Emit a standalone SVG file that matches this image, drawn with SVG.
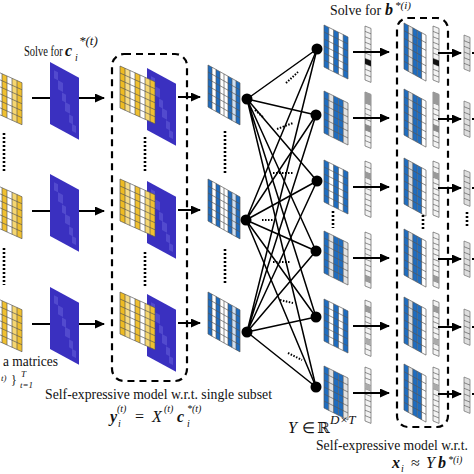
<svg xmlns="http://www.w3.org/2000/svg" width="474" height="474" viewBox="0 0 474 474">
<style>
text{font-family:"Liberation Serif","Times New Roman",serif;fill:#111}
.it{font-style:italic}
.bi{font-style:italic;font-weight:bold}
.grid{fill:none;stroke:#555;stroke-width:0.6}
.edge{stroke:#000;stroke-width:1.5;fill:none}
.dots{stroke:#000;stroke-width:2;stroke-dasharray:1.5 1.5;fill:none}
.vdots{stroke:#000;stroke-width:2.6;stroke-dasharray:2 2;fill:none}
.arrow{stroke:#000;stroke-width:2;fill:none;marker-end:url(#ah)}
.box{fill:none;stroke:#000;stroke-width:2.2;stroke-dasharray:7 5}
.vec{fill:#f3f3f3;stroke:#555;stroke-width:0.6}
</style>
<defs>
<marker id="ah" markerUnits="userSpaceOnUse" markerWidth="10" markerHeight="9" refX="9" refY="4.5" orient="auto">
<path d="M0,0 L10,4.5 L0,9 z" fill="#000"/>
</marker>
<g id="ym">
<rect x="0" y="0" width="5" height="42" fill="#eebb22"/>
<rect x="5" y="0" width="5" height="42" fill="#f6dc86"/>
<rect x="10" y="0" width="5" height="42" fill="#ffffff"/>
<rect x="15" y="0" width="5" height="42" fill="#f0c030"/>
<rect x="20" y="0" width="5" height="42" fill="#ffffff"/>
<rect x="25" y="0" width="5" height="42" fill="#f5d670"/>
<rect x="30" y="0" width="5" height="42" fill="#f0c030"/>
<path class="grid" d="M0 0V42M5 0V42M10 0V42M15 0V42M20 0V42M25 0V42M30 0V42M35 0V42M0 0H35M0 7H35M0 14H35M0 21H35M0 28H35M0 35H35M0 42H35"/>
</g>
<g id="pp">
<rect x="0" y="0" width="29" height="62" fill="#3a30c0"/>
<g fill="#8a88f0" opacity="0.3">
<rect x="4" y="6" width="4" height="8"/><rect x="8" y="14" width="5" height="9"/><rect x="12" y="24" width="4" height="8"/>
<rect x="15" y="32" width="5" height="9"/><rect x="19" y="42" width="4" height="8"/><rect x="22" y="50" width="4" height="7"/>
</g>
</g>
<g id="bm">
<rect x="0" y="0" width="32" height="42" fill="#fff"/>
<rect x="0" y="0" width="4" height="42" fill="#1f6dc0"/>
<rect x="8" y="0" width="4" height="42" fill="#1f6dc0"/>
<rect x="20" y="0" width="4" height="42" fill="#1f6dc0"/>
<rect x="24" y="0" width="4" height="42" fill="#cfe0f3"/>
<rect x="28" y="0" width="4" height="42" fill="#1f6dc0"/>
<path class="grid" d="M0 0V42M4 0V42M8 0V42M12 0V42M16 0V42M20 0V42M24 0V42M28 0V42M32 0V42M0 0H32M0 7H32M0 14H32M0 21H32M0 28H32M0 35H32M0 42H32"/>
</g>
<g id="rmA">
<rect x="0" y="0" width="24" height="42" fill="#fff"/>
<rect x="0" y="0" width="4.8" height="42" fill="#1f6dc0"/>
<rect x="9.6" y="0" width="4.8" height="42" fill="#1f6dc0"/>
<rect x="19.2" y="0" width="4.8" height="42" fill="#1f6dc0"/>
<path class="grid" d="M0 0V42M4.8 0V42M9.6 0V42M14.4 0V42M19.2 0V42M24 0V42M0 0H24M0 7H24M0 14H24M0 21H24M0 28H24M0 35H24M0 42H24"/>
</g>
<g id="rmB">
<rect x="0" y="0" width="24" height="42" fill="#fff"/>
<rect x="0" y="0" width="4.8" height="42" fill="#1f6dc0"/>
<rect x="4.8" y="0" width="4.8" height="42" fill="#e2e2e2"/>
<rect x="9.6" y="0" width="4.8" height="42" fill="#1f6dc0"/>
<rect x="14.4" y="0" width="4.8" height="42" fill="#1f6dc0"/>
<rect x="19.2" y="0" width="4.8" height="42" fill="#e2e2e2"/>
<path class="grid" d="M0 0V42M4.8 0V42M9.6 0V42M14.4 0V42M19.2 0V42M24 0V42M0 0H24M0 7H24M0 14H24M0 21H24M0 28H24M0 35H24M0 42H24"/>
</g>
<g id="rmC">
<rect x="0" y="0" width="22" height="46" fill="#fff"/>
<rect x="0" y="0" width="4.4" height="46" fill="#1f6dc0"/>
<rect x="4.4" y="0" width="4.4" height="46" fill="#dcdcdc"/>
<rect x="8.8" y="0" width="4.4" height="46" fill="#1f6dc0"/>
<rect x="13.2" y="0" width="4.4" height="46" fill="#1f6dc0"/>
<path class="grid" d="M0 0V46M4.4 0V46M8.8 0V46M13.2 0V46M17.6 0V46M22 0V46M0 0H22M0 7.7H22M0 15.3H22M0 23H22M0 30.7H22M0 38.3H22M0 46H22"/>
</g>
<g id="vc">
<rect class="vec" x="0" y="0" width="6" height="54"/>
<path class="grid" d="M0 5.4H6M0 10.8H6M0 16.2H6M0 21.6H6M0 27H6M0 32.4H6M0 37.8H6M0 43.2H6M0 48.6H6"/>
</g>
<g id="vs">
<rect x="0" y="0" width="6" height="34" fill="#dedede" stroke="#666" stroke-width="0.6"/>
<path class="grid" d="M0 5.7H6M0 11.3H6M0 17H6M0 22.7H6M0 28.3H6"/>
</g>
</defs>

<!-- connectors -->
<g id="connectors">
<path class="arrow" d="M32 98H104"/>
<path class="arrow" d="M32 211H104"/>
<path class="arrow" d="M32 324H104"/>
<g id="net-edges">
<path class="edge" d="M247 99L317 49M247 99L316 115M247 99L317 181M247 99L316 251M247 99L316 317M247 99L316 387"/>
<path class="edge" d="M246 220L317 49M246 220L316 115M246 220L317 181M246 220L316 251M246 220L316 317M246 220L316 387"/>
<path class="edge" d="M247 332L317 49M247 332L316 115M247 332L317 181M247 332L316 251M247 332L316 317M247 332L316 387"/>
<path class="dots" d="M286 83L298 72M277 129L293 123M255 110L263 117M273 173H293M262 220H273M273 262H290M280 300L293 303M288 353L302 360"/>
</g>
</g>

<!-- left data matrices -->
<g id="data-matrices">
<use href="#ym" transform="matrix(1,0.45,0,1,-13,67)"/>
<use href="#ym" transform="matrix(1,0.45,0,1,-13,181)"/>
<use href="#ym" transform="matrix(1,0.45,0,1,-13,294)"/>
<path class="vdots" d="M4 133V172M4 248V285"/>
</g>
<g id="coef-planes">
<use href="#pp" transform="matrix(1,0.54,0,1,50,62)"/>
<use href="#pp" transform="matrix(1,0.54,0,1,50,174)"/>
<use href="#pp" transform="matrix(1,0.54,0,1,50,287)"/>
</g>

<!-- box 1 -->
<g id="single-subset-box">
<use href="#pp" transform="matrix(1,0.54,0,1,147,68)"/>
<use href="#ym" transform="matrix(1,0.45,0,1,120,66)"/>
<use href="#pp" transform="matrix(1,0.54,0,1,147,181)"/>
<use href="#ym" transform="matrix(1,0.45,0,1,120,179)"/>
<use href="#pp" transform="matrix(1,0.54,0,1,147,294)"/>
<use href="#ym" transform="matrix(1,0.45,0,1,120,292)"/>
<path class="vdots" d="M145 137V173M145 252V286"/>
<rect class="box" x="112" y="54" width="75" height="327" rx="12"/>
<path class="arrow" d="M178 97H200"/>
<path class="arrow" d="M178 210H200"/>
<path class="arrow" d="M178 323H200"/>
</g>

<!-- blue Y matrices -->
<g id="y-matrices">
<use href="#bm" transform="matrix(1,0.56,0,1,208,65)"/>
<use href="#bm" transform="matrix(1,0.56,0,1,208,179)"/>
<use href="#bm" transform="matrix(1,0.56,0,1,208,292)"/>
<path class="vdots" d="M225 131V173M225 249V285"/>
</g>

<!-- network nodes -->
<g id="node-L0"><circle cx="247" cy="99" r="5.5"/></g>
<g id="node-L1"><circle cx="246" cy="220" r="5.5"/></g>
<g id="node-L2"><circle cx="247" cy="332" r="5.5"/></g>
<g id="node-R0"><circle cx="317" cy="49" r="5.5"/></g>
<g id="node-R1"><circle cx="316" cy="115" r="5.5"/></g>
<g id="node-R2"><circle cx="317" cy="181" r="5.5"/></g>
<g id="node-R3"><circle cx="316" cy="251" r="5.5"/></g>
<g id="node-R4"><circle cx="316" cy="317" r="5.5"/></g>
<g id="node-R5"><circle cx="316" cy="387" r="5.5"/></g>

<!-- right matrices + vectors -->
<g id="right-matrices">
<use href="#rmA" transform="matrix(1,0.5,0,1,324,25)"/>
<use href="#rmB" transform="matrix(1,0.5,0,1,324,91)"/>
<use href="#rmA" transform="matrix(1,0.5,0,1,324,160)"/>
<use href="#rmB" transform="matrix(1,0.5,0,1,324,231)"/>
<use href="#rmA" transform="matrix(1,0.5,0,1,324,299)"/>
<use href="#rmB" transform="matrix(1,0.5,0,1,324,366)"/>
<path class="vdots" d="M333 211V228"/>
</g>
<g id="right-vectors">
<g transform="matrix(1,0.4,0,1,365,26)"><use href="#vc"/><rect x="0" y="32.4" width="6" height="5.4" fill="#111"/></g>
<g transform="matrix(1,0.4,0,1,365,92)"><use href="#vc"/><rect x="0" y="0" width="6" height="10.8" fill="#999"/><rect x="0" y="32.4" width="6" height="5.4" fill="#888"/></g>
<g transform="matrix(1,0.4,0,1,365,161)"><use href="#vc"/><rect x="0" y="10.8" width="6" height="5.4" fill="#999"/></g>
<g transform="matrix(1,0.4,0,1,365,232)"><use href="#vc"/><rect x="0" y="43.2" width="6" height="5.4" fill="#999"/></g>
<g transform="matrix(1,0.4,0,1,365,300)"><use href="#vc"/><rect x="0" y="5.4" width="6" height="5.4" fill="#999"/><rect x="0" y="37.8" width="6" height="5.4" fill="#aaa"/></g>
<g transform="matrix(1,0.4,0,1,365,367)"><use href="#vc"/><rect x="0" y="16.2" width="6" height="5.4" fill="#aaa"/></g>
<path class="arrow" d="M353 52H389"/>
<path class="arrow" d="M353 118H389"/>
<path class="arrow" d="M353 187H389"/>
<path class="arrow" d="M353 258H389"/>
<path class="arrow" d="M353 326H389"/>
<path class="arrow" d="M353 393H389"/>
</g>

<!-- box 2 -->
<g id="union-box">
<use href="#rmC" transform="matrix(1,0.55,0,1,404,23)"/>
<use href="#rmC" transform="matrix(1,0.55,0,1,404,89)"/>
<use href="#rmC" transform="matrix(1,0.55,0,1,404,158)"/>
<use href="#rmC" transform="matrix(1,0.55,0,1,404,229)"/>
<use href="#rmC" transform="matrix(1,0.55,0,1,404,297)"/>
<use href="#rmC" transform="matrix(1,0.55,0,1,404,364)"/>
<g transform="matrix(1,0.4,0,1,433,26)"><use href="#vc"/><rect x="0" y="32.4" width="6" height="5.4" fill="#111"/></g>
<g transform="matrix(1,0.4,0,1,433,92)"><use href="#vc"/><rect x="0" y="0" width="6" height="10.8" fill="#999"/><rect x="0" y="32.4" width="6" height="5.4" fill="#888"/></g>
<g transform="matrix(1,0.4,0,1,433,161)"><use href="#vc"/><rect x="0" y="10.8" width="6" height="5.4" fill="#999"/></g>
<g transform="matrix(1,0.4,0,1,433,232)"><use href="#vc"/><rect x="0" y="43.2" width="6" height="5.4" fill="#999"/></g>
<g transform="matrix(1,0.4,0,1,433,300)"><use href="#vc"/><rect x="0" y="5.4" width="6" height="5.4" fill="#999"/><rect x="0" y="37.8" width="6" height="5.4" fill="#aaa"/></g>
<g transform="matrix(1,0.4,0,1,433,367)"><use href="#vc"/><rect x="0" y="16.2" width="6" height="5.4" fill="#aaa"/></g>
<path class="vdots" d="M423 215V230"/>
<rect class="box" x="397" y="18" width="51" height="409" rx="11"/>
<path class="arrow" d="M438 53H461"/>
<path class="arrow" d="M438 119H461"/>
<path class="arrow" d="M438 188H461"/>
<path class="arrow" d="M438 259H461"/>
<path class="arrow" d="M438 327H461"/>
<path class="arrow" d="M438 394H461"/>
</g>

<g id="far-vectors">
<use href="#vs" transform="matrix(1,0.4,0,1,464,35)"/>
<use href="#vs" transform="matrix(1,0.4,0,1,464,101)"/>
<use href="#vs" transform="matrix(1,0.4,0,1,464,170)"/>
<use href="#vs" transform="matrix(1,0.4,0,1,464,241)"/>
<use href="#vs" transform="matrix(1,0.4,0,1,464,309)"/>
<use href="#vs" transform="matrix(1,0.4,0,1,464,377)"/>
<path class="vdots" d="M467 212V228"/>
<path stroke="#000" stroke-width="2" d="M472 53H474M472 119H474M472 188H474M472 259H474M472 327H474M472 394H474"/>
</g>

<!-- labels -->
<g id="labels">
<text transform="matrix(0.75,0,0,1,24,56)" font-size="14">Solve for</text>
<text x="65" y="56" font-size="16"><tspan class="bi">c</tspan><tspan x="75" dy="5" class="it" font-size="10">i</tspan><tspan x="79" dy="-16" class="it" font-size="13">*(t)</tspan></text>

<text x="330" y="15" font-size="14"><tspan textLength="51" lengthAdjust="spacingAndGlyphs">Solve for</tspan><tspan x="385" class="bi" font-size="16">b</tspan><tspan x="395" dy="-6" class="it" font-size="11">*(i)</tspan></text>

<text x="3" y="366" font-size="14" textLength="55" lengthAdjust="spacingAndGlyphs">a matrices</text>
<text x="1" y="381" font-size="9"><tspan class="it">t)</tspan><tspan x="11" dy="3" font-size="12">}</tspan><tspan x="21" dy="-7" class="it">T</tspan><tspan x="20" dy="11" class="it">t=1</tspan></text>

<text x="45" y="399" font-size="15" textLength="227" lengthAdjust="spacingAndGlyphs">Self-expressive model w.r.t. single subset</text>
<text x="110" y="422" font-size="16"><tspan class="bi">y</tspan><tspan x="118" dy="5" class="it" font-size="10">i</tspan><tspan x="117" dy="-15" class="it" font-size="10">(t)</tspan><tspan x="135" dy="10">=</tspan><tspan x="152" class="it">X</tspan><tspan x="164" dy="-10" class="it" font-size="10">(t)</tspan><tspan x="177" dy="10" class="bi">c</tspan><tspan x="187" dy="5" class="it" font-size="10">i</tspan><tspan x="187" dy="-15" class="it" font-size="10">*(t)</tspan></text>

<text x="288" y="433" font-size="16"><tspan class="it">Y</tspan><tspan x="302" font-size="15">∈</tspan><tspan x="317" font-size="15" style="font-family:'DejaVu Serif',serif">ℝ</tspan><tspan x="330" dy="-9" class="it" font-size="13">D×T</tspan></text>

<text x="316" y="450" font-size="14" textLength="152" lengthAdjust="spacingAndGlyphs">Self-expressive model w.r.t.</text>
<text x="392" y="468" font-size="16"><tspan class="bi">x</tspan><tspan x="401" dy="4" class="it" font-size="10">i</tspan><tspan x="411" dy="-4">≈</tspan><tspan x="426" class="it">Y</tspan><tspan x="438" class="bi">b</tspan><tspan x="448" dy="-5" class="it" font-size="10">*(i)</tspan></text>
</g>
</svg>
